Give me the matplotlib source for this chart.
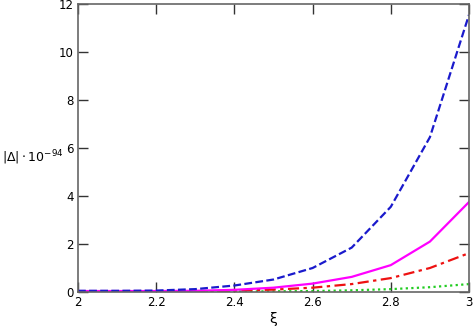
import numpy as np
import matplotlib
matplotlib.use("Agg")
import matplotlib.pyplot as plt

# values
xi = [2.0, 2.1, 2.2, 2.3, 2.4, 2.5, 2.6, 2.7, 2.8, 2.9, 3.0]
blue = [0.05, 0.05, 0.06, 0.12, 0.27, 0.52, 1.0, 1.85, 3.55, 6.45, 11.55]
magenta = [0.04, 0.04, 0.04, 0.05, 0.09, 0.18, 0.35, 0.63, 1.12, 2.1, 3.75]
red = [0.02, 0.02, 0.02, 0.03, 0.05, 0.1, 0.18, 0.33, 0.58, 1.0, 1.62]
green = [0.01, 0.01, 0.01, 0.01, 0.02, 0.03, 0.04, 0.07, 0.12, 0.2, 0.33]

xticks = [2, 2.2, 2.4, 2.6, 2.8, 3]
xticklabels = ["2", "2.2", "2.4", "2.6", "2.8", "3"]
yticks = [0, 2, 4, 6, 8, 10, 12]

fig = plt.figure(figsize=(4.74, 3.29), dpi=100)
ax = fig.add_axes([78/474, 37/329, 391/474, 288/329])

ax.plot(xi, green, color="#22cc22", lw=1.6, ls=(0, (1, 1.5)))
ax.plot(xi, red, color="#ee1111", lw=1.6, ls=(0, (5, 2, 1.5, 2)))
ax.plot(xi, magenta, color="#ff00ff", lw=1.6, ls="-")
ax.plot(xi, blue, color="#1a1acc", lw=1.6, ls=(0, (3.5, 1.5)))

ax.set_xlim(2, 3)
ax.set_ylim(0, 12)
ax.set_xticks(xticks)
ax.set_xticklabels(xticklabels)
ax.set_yticks(yticks)
ax.tick_params(direction="in", length=7, width=1, top=True, right=True,
               labelsize=8.5, colors="#333333", labelcolor="black", pad=3)
for s in ax.spines.values():
    s.set_color("#666666")
    s.set_linewidth(1.2)

ax.set_xlabel("ξ", fontsize=10, labelpad=2)
fig.text(2/474, 1 - 158/329, r"$|\Delta|\cdot10^{-94}$", fontsize=9,
         va="center", ha="left")

fig.savefig("out.png", dpi=100)
